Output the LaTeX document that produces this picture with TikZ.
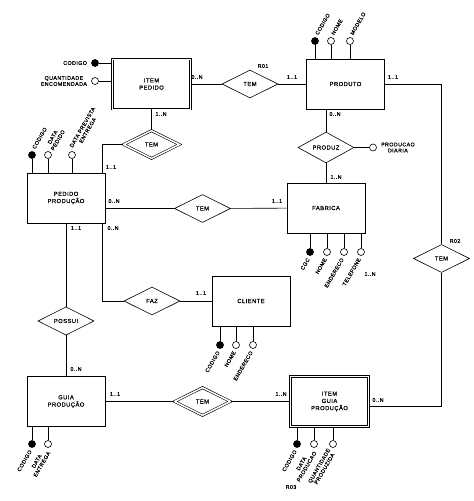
\documentclass[tikz,border=0pt]{standalone}
\usepackage{fontspec}
\newfontfamily\erfont[LetterSpace=8,FakeBold=0.6]{Liberation Sans}
\usetikzlibrary{positioning,shapes.geometric,calc}

\begin{document}
\begin{tikzpicture}[x=1pt, y=-1pt, line width=0.6pt,
    entity/.style={draw, rectangle, minimum width=78pt, minimum height=50pt, align=center, inner sep=1pt, font=\erfont\fontsize{5.8}{7.2}\selectfont},
    weak/.style={entity, double, double distance=1pt},
    rel/.style={draw, diamond, minimum width=56pt, minimum height=28pt, inner sep=0pt, font=\erfont\fontsize{5.8}{7}\selectfont},
    wrel/.style={rel, double, double distance=1.5pt},
    key/.style={draw, circle, fill=black, minimum size=7pt, inner sep=0pt},
    attr/.style={key, fill=white},
    card/.style={font=\erfont\fontsize{5.3}{6}\selectfont, inner sep=0pt},
    up/.style={card, rotate=60, anchor=west, align=center},
    down/.style={card, rotate=60, anchor=east, align=center}]
  \useasboundingbox (0,0) rectangle (474,501);

  % entidades
  \node[weak] (itemped) at (151.5,84) {ITEM\\PEDIDO};
  \node[entity] (prod) at (345.5,84) {PRODUTO};
  \node[entity] (pedprod) at (66,198) {PEDIDO\\PRODUÇÃO};
  \node[entity] (fab) at (326,208) {FABRICA};
  \node[entity] (cli) at (251,301) {CLIENTE};
  \node[entity] (guia) at (66,401.5) {GUIA\\PRODUÇÃO};
  \node[weak] (itemguia) at (329.5,401.5) {ITEM\\GUIA\\PRODUÇÃO};

  % relacionamentos
  \node[rel] (r01) at (250,84) {TEM};
  \node[rel] (produz) at (326,147.5) {PRODUZ};
  \node[rel] (r02) at (441.5,258.5) {TEM};
  \node[wrel] (temitem) at (151.5,144.5) {TEM};
  \node[rel] (temfab) at (202.5,208.5) {TEM};
  \node[rel] (faz) at (152,301) {FAZ};
  \node[rel] (possui) at (66,321) {POSSUI};
  \node[wrel] (temguia) at (202.5,401.5) {TEM};

  % ligacoes
  \draw (itemped) -- (r01);
  \draw (r01) -- (prod);
  \draw (prod.east) -| (r02.north);
  \draw (r02.south) |- ([yshift=-5pt]itemguia.east);
  \draw (produz.north) -- (produz.north |- prod.south);
  \draw (produz.south) -- (fab.north);
  \draw (temitem.west) -| ([xshift=-3pt]pedprod.north east);
  \draw (temitem.north) -- (itemped.south);
  \draw (temfab.west) -- (temfab.west -| pedprod.east);
  \draw (temfab) -- (fab);
  \draw (faz.west) -| ([xshift=-3pt]pedprod.south east);
  \draw (faz) -- (cli);
  \draw (pedprod.south) -- (possui.north);
  \draw (possui.south) -- (guia.north);
  \draw (guia) -- (temguia);
  \draw (temguia) -- (itemguia);

  % cardinalidades
  \node[card] (c1) at (197,77) {0..N};
  \node[card] (c2) at (292,77) {1..1};
  \node[card] (c3) at (393,77) {1..1};
  \node[card] (c4) at (161,114) {1..N};
  \node[card] (c5) at (335,114) {0..N};
  \node[card] (c6) at (336,177) {1..N};
  \node[card] (c7) at (111,167) {1..1};
  \node[card] (c8) at (114,201) {0..N};
  \node[card] (c9) at (277,201) {1..1};
  \node[card] (c10) at (76,228) {1..1};
  \node[card] (c11) at (113,228) {0..N};
  \node[card] (c12) at (201,293) {1..1};
  \node[card] (c13) at (76,369) {0..N};
  \node[card] (c14) at (115,394) {1..1};
  \node[card] (c15) at (281,394) {1..N};
  \node[card] (c16) at (378,400) {0..N};
  \node[card] (c17) at (370,274) {1..N};
  \node[card] (n01) at (263,66) {R01};
  \node[card] (n02) at (455,241) {R02};
  \node[card] (n03) at (291,487) {R03};

  % atributos item pedido
  \node[key] (ipcod) at (95,63) {};
  \node[attr] (ipqtd) at (95,81) {};
  \draw (ipcod) -- (ipcod -| itemped.west);
  \draw (ipqtd) -- (ipqtd -| itemped.west);
  \node[card, left=4pt of ipcod] (lipcod) {CODIGO};
  \node[card, left=4pt of ipqtd, align=center] (lipqtd) {QUANTIDADE\\ENCOMENDADA};

  % atributos produto
  \node[key] (pcod) at (315,41) {};
  \node[attr] (pnome) at (331,41) {};
  \node[attr] (pmod) at (350,41) {};
  \draw (pcod) -- (pcod |- prod.north);
  \draw (pnome) -- (pnome |- prod.north);
  \draw (pmod) -- (pmod |- prod.north);
  \node[up] (lpcod) at ([xshift=1.5pt,yshift=2.5pt]pcod.north) {CODIGO};
  \node[up] (lpnome) at ([xshift=1.5pt,yshift=2.5pt]pnome.north) {NOME};
  \node[up] (lpmod) at ([xshift=1.5pt,yshift=2.5pt]pmod.north) {MODELO};

  % atributos pedido producao
  \node[key] (ppcod) at (32,155) {};
  \node[attr] (ppdata) at (48,155) {};
  \node[attr] (ppprev) at (72,155) {};
  \draw (ppcod) -- (ppcod |- pedprod.north);
  \draw (ppdata) -- (ppdata |- pedprod.north);
  \draw (ppprev) -- (ppprev |- pedprod.north);
  \node[up] (lppcod) at ([xshift=1.5pt,yshift=2.5pt]ppcod.north) {CODIGO};
  \node[up] (lppdata) at ([xshift=1.5pt,yshift=2.5pt]ppdata.north) {DATA\\PEDIDO};
  \node[up] (lppprev) at ([xshift=1.5pt,yshift=2.5pt]ppprev.north) {DATA PREVISTA\\ENTREGA};

  % atributo produz
  \node[attr] (pdiaria) at (373,147.5) {};
  \draw (produz.east) -- (pdiaria);
  \node[card, right=4pt of pdiaria, align=center] (lpdiaria) {PRODUCAO\\DIARIA};

  % atributos fabrica
  \node[key] (fcgc) at (310,252) {};
  \node[attr] (fnome) at (327,252) {};
  \node[attr] (fend) at (344,252) {};
  \node[attr] (ftel) at (361,252) {};
  \draw (fcgc) -- (fcgc |- fab.south);
  \draw (fnome) -- (fnome |- fab.south);
  \draw (fend) -- (fend |- fab.south);
  \draw (ftel) -- (ftel |- fab.south);
  \node[down] (lfcgc) at ([xshift=-1.5pt,yshift=-2.5pt]fcgc.south) {CGC};
  \node[down] (lfnome) at ([xshift=-1.5pt,yshift=-2.5pt]fnome.south) {NOME};
  \node[down] (lfend) at ([xshift=-1.5pt,yshift=-2.5pt]fend.south) {ENDERECO};
  \node[down] (lftel) at ([xshift=-1.5pt,yshift=-2.5pt]ftel.south) {TELEFONE};

  % atributos cliente
  \node[key] (ccod) at (220,345) {};
  \node[attr] (cnome) at (236,345) {};
  \node[attr] (cend) at (253,345) {};
  \draw (ccod) -- (ccod |- cli.south);
  \draw (cnome) -- (cnome |- cli.south);
  \draw (cend) -- (cend |- cli.south);
  \node[down] (lccod) at ([xshift=-1.5pt,yshift=-2.5pt]ccod.south) {CODIGO};
  \node[down] (lcnome) at ([xshift=-1.5pt,yshift=-2.5pt]cnome.south) {NOME};
  \node[down] (lcend) at ([xshift=-1.5pt,yshift=-2.5pt]cend.south) {ENDERECO};

  % atributos guia producao
  \node[key] (gcod) at (32,444) {};
  \node[attr] (gdata) at (48,444) {};
  \draw (gcod) -- (gcod |- guia.south);
  \draw (gdata) -- (gdata |- guia.south);
  \node[down] (lgcod) at ([xshift=-1.5pt,yshift=-2.5pt]gcod.south) {CODIGO};
  \node[down] (lgdata) at ([xshift=-1.5pt,yshift=-2.5pt]gdata.south) {DATA\\ENTREGA};

  % atributos item guia producao
  \node[key] (igcod) at (297,444) {};
  \node[attr] (igdata) at (314,444) {};
  \node[attr] (igqtd) at (333,444) {};
  \draw (igcod) -- (igcod |- itemguia.south);
  \draw (igdata) -- (igdata |- itemguia.south);
  \draw (igqtd) -- (igqtd |- itemguia.south);
  \node[down] (ligcod) at ([xshift=-1.5pt,yshift=-2.5pt]igcod.south) {CODIGO};
  \node[down] (ligdata) at ([xshift=-1.5pt,yshift=-2.5pt]igdata.south) {DATA\\PRODUCAO};
  \node[down] (ligqtd) at ([xshift=-1.5pt,yshift=-2.5pt]igqtd.south) {QUANTIDADE\\PRODUZIDA};
\end{tikzpicture}
\end{document}
